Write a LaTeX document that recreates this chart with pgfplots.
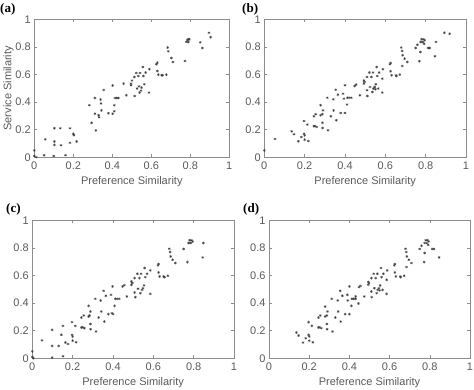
\documentclass[border=0pt]{standalone}
\usepackage{fontspec}
\setmainfont{Liberation Sans}
\newfontfamily\serifbold{Liberation Serif}
\usepackage{pgfplots}
\pgfplotsset{compat=1.18}
\definecolor{spine}{HTML}{8C8C8C}
\definecolor{lbl}{HTML}{5A5A5A}
\definecolor{mk}{HTML}{404040}
\pgfplotsset{
  panel/.style={
    scale only axis, height=138pt,
    xmin=0, xmax=1, ymin=0, ymax=1,
    xtick={0,0.2,0.4,0.6,0.8,1}, ytick={0,0.2,0.4,0.6,0.8,1},
    tick align=inside, major tick length=3pt,
    axis line style={spine, line width=0.6pt},
    tick style={spine, line width=0.5pt},
    /pgf/number format/assume math mode=true,
    tick label style={font=\fontsize{11}{13}\selectfont, text=lbl},
    label style={font=\fontsize{11}{13}\selectfont, text=lbl},
    xticklabel style={yshift=-1pt},
    xlabel={Preference Similarity},
    xlabel style={yshift=0pt},
    clip=false,
  },
  dots/.style={only marks, mark=asterisk, mark size=1.4pt, color=mk, line width=0.4pt},
}
\begin{document}
\begin{tikzpicture}[x=1pt,y=1pt]
\useasboundingbox (0,0) rectangle (474,389);
% (a)
\begin{axis}[panel, width=195pt, at={(34.3pt,231.7pt)}, anchor=origin, ylabel={Service Similarity}, ylabel style={yshift=-5pt}]
\addplot[dots] coordinates {
(0,0.05) (0,0.01) (0.01,0.0) (0.05,0.015) (0.056,0.13) (0.103,0.21) (0.133,0.21) (0.103,0.115)
(0.103,0.09) (0.137,0.087) (0.10,0.01) (0.16,0.015) (0.183,0.21) (0.183,0.105) (0.2,0.17) (0.203,0.16)
(0.217,0.115) (0.282,0.377) (0.294,0.25) (0.311,0.43) (0.311,0.316) (0.316,0.195) (0.33,0.305) (0.332,0.29)
(0.34,0.418) (0.342,0.39) (0.344,0.34) (0.356,0.488) (0.38,0.319) (0.402,0.52) (0.402,0.316) (0.41,0.333)
(0.41,0.377) (0.414,0.43) (0.422,0.43) (0.431,0.43) (0.458,0.534) (0.472,0.449) (0.496,0.534) (0.496,0.522)
(0.501,0.556) (0.513,0.582) (0.515,0.444) (0.523,0.611) (0.527,0.498) (0.533,0.589) (0.537,0.514) (0.54,0.469)
(0.542,0.611) (0.547,0.483) (0.55,0.505) (0.557,0.654) (0.559,0.589) (0.564,0.529) (0.571,0.614) (0.588,0.469)
(0.59,0.638) (0.626,0.674) (0.631,0.686) (0.631,0.626) (0.636,0.599) (0.653,0.594) (0.658,0.594) (0.677,0.599)
(0.684,0.795) (0.687,0.768) (0.703,0.72) (0.711,0.691) (0.773,0.698) (0.779,0.836) (0.785,0.85) (0.79,0.855)
(0.795,0.855) (0.79,0.836) (0.851,0.833) (0.862,0.792) (0.896,0.903) (0.904,0.87)
};
\end{axis}
% (b)
\begin{axis}[panel, width=201.7pt, at={(264.3pt,231.7pt)}, anchor=origin]
\addplot[dots] coordinates {
(0,0.05) (0.053,0.133) (0.136,0.188) (0.147,0.167) (0.169,0.116) (0.183,0.147) (0.197,0.171) (0.2,0.159)
(0.197,0.263) (0.2,0.128) (0.213,0.237) (0.218,0.118) (0.246,0.225) (0.251,0.227) (0.26,0.22) (0.246,0.297)
(0.255,0.312) (0.279,0.377) (0.279,0.304) (0.288,0.312) (0.291,0.34) (0.288,0.251) (0.289,0.213) (0.312,0.432)
(0.316,0.196) (0.33,0.297) (0.342,0.42) (0.344,0.34) (0.354,0.49) (0.357,0.268) (0.365,0.454) (0.379,0.321)
(0.39,0.461) (0.4,0.522) (0.4,0.321) (0.395,0.425) (0.41,0.382) (0.412,0.432) (0.421,0.432) (0.431,0.432)
(0.448,0.517) (0.455,0.527) (0.474,0.449) (0.494,0.556) (0.494,0.534) (0.497,0.546) (0.509,0.582) (0.509,0.486)
(0.511,0.444) (0.521,0.614) (0.524,0.51) (0.531,0.582) (0.539,0.614) (0.536,0.473) (0.541,0.498) (0.547,0.51)
(0.551,0.493) (0.553,0.529) (0.557,0.655) (0.56,0.589) (0.565,0.498) (0.569,0.614) (0.585,0.57) (0.585,0.469)
(0.588,0.638) (0.623,0.674) (0.626,0.684) (0.626,0.623) (0.631,0.594) (0.653,0.594) (0.655,0.589) (0.672,0.599)
(0.679,0.795) (0.683,0.771) (0.686,0.739) (0.684,0.662) (0.696,0.715) (0.709,0.691) (0.75,0.792) (0.759,0.816)
(0.769,0.696) (0.774,0.763) (0.775,0.836) (0.78,0.855) (0.785,0.836) (0.788,0.855) (0.792,0.823) (0.795,0.848)
(0.812,0.792) (0.82,0.792) (0.846,0.732) (0.851,0.836) (0.893,0.903) (0.919,0.896)
};
\end{axis}
% (c)
\begin{axis}[panel, width=201.7pt, at={(32.3pt,30.7pt)}, anchor=origin]
\addplot[dots] coordinates {
(0,0.05) (0,0.01) (0.005,0.0) (0.048,0.13) (0.098,0.206) (0.098,0.09) (0.131,0.09) (0.098,0.005)
(0.152,0.235) (0.144,0.17) (0.152,0.015) (0.164,0.114) (0.177,0.104) (0.197,0.17) (0.2,0.158) (0.197,0.262)
(0.2,0.128) (0.213,0.235) (0.217,0.116) (0.243,0.223) (0.25,0.225) (0.258,0.218) (0.243,0.295) (0.255,0.31)
(0.279,0.38) (0.279,0.303) (0.284,0.31) (0.288,0.339) (0.288,0.249) (0.289,0.211) (0.312,0.431) (0.316,0.194)
(0.329,0.295) (0.339,0.419) (0.342,0.339) (0.354,0.489) (0.357,0.266) (0.365,0.453) (0.377,0.32) (0.39,0.46)
(0.398,0.521) (0.4,0.32) (0.395,0.327) (0.408,0.38) (0.412,0.431) (0.421,0.431) (0.431,0.431) (0.448,0.521)
(0.456,0.53) (0.469,0.448) (0.491,0.557) (0.491,0.533) (0.496,0.545) (0.507,0.581) (0.507,0.477) (0.511,0.443)
(0.521,0.613) (0.524,0.504) (0.531,0.581) (0.539,0.613) (0.536,0.472) (0.544,0.496) (0.549,0.508) (0.554,0.528)
(0.557,0.654) (0.56,0.588) (0.569,0.613) (0.585,0.637) (0.585,0.467) (0.623,0.673) (0.626,0.683) (0.626,0.622)
(0.631,0.593) (0.651,0.593) (0.656,0.588) (0.672,0.598) (0.679,0.794) (0.683,0.77) (0.686,0.738) (0.696,0.714)
(0.709,0.69) (0.75,0.792) (0.769,0.697) (0.775,0.835) (0.78,0.855) (0.785,0.835) (0.788,0.855) (0.795,0.847)
(0.848,0.835) (0.845,0.731)
};
\end{axis}
% (d)
\begin{axis}[panel, width=201pt, at={(269pt,30.7pt)}, anchor=origin]
\addplot[dots] coordinates {
(0.136,0.187) (0.147,0.165) (0.169,0.114) (0.183,0.145) (0.197,0.17) (0.2,0.158) (0.197,0.262) (0.2,0.128)
(0.213,0.235) (0.218,0.116) (0.246,0.223) (0.251,0.225) (0.26,0.218) (0.246,0.295) (0.255,0.31) (0.279,0.375)
(0.279,0.303) (0.288,0.31) (0.291,0.339) (0.288,0.249) (0.289,0.211) (0.312,0.431) (0.316,0.194) (0.33,0.295)
(0.342,0.419) (0.344,0.339) (0.354,0.489) (0.357,0.266) (0.365,0.453) (0.379,0.32) (0.39,0.46) (0.4,0.521)
(0.4,0.32) (0.392,0.419) (0.41,0.38) (0.412,0.431) (0.421,0.431) (0.431,0.448) (0.431,0.431) (0.448,0.516)
(0.455,0.525) (0.474,0.448) (0.445,0.397) (0.494,0.554) (0.494,0.533) (0.497,0.545) (0.509,0.581) (0.509,0.484)
(0.511,0.443) (0.521,0.613) (0.524,0.508) (0.531,0.581) (0.539,0.613) (0.536,0.472) (0.541,0.496) (0.547,0.508)
(0.551,0.492) (0.553,0.528) (0.557,0.654) (0.56,0.588) (0.565,0.496) (0.569,0.613) (0.585,0.569) (0.585,0.467)
(0.588,0.637) (0.623,0.673) (0.626,0.683) (0.626,0.622) (0.631,0.593) (0.653,0.593) (0.655,0.588) (0.672,0.598)
(0.679,0.794) (0.683,0.77) (0.686,0.738) (0.684,0.661) (0.696,0.714) (0.709,0.69) (0.75,0.792) (0.759,0.816)
(0.772,0.697) (0.774,0.763) (0.775,0.835) (0.78,0.855) (0.785,0.835) (0.788,0.855) (0.792,0.823) (0.795,0.847)
(0.812,0.792) (0.82,0.792) (0.846,0.731)
};
\end{axis}
\node[anchor=west, inner sep=0pt, font=\serifbold\bfseries\fontsize{13}{15}\selectfont] at (0,380) {(a)};
\node[anchor=west, inner sep=0pt, font=\serifbold\bfseries\fontsize{13}{15}\selectfont] at (242,380) {(b)};
\node[anchor=west, inner sep=0pt, font=\serifbold\bfseries\fontsize{13}{15}\selectfont] at (6,179.5) {(c)};
\node[anchor=west, inner sep=0pt, font=\serifbold\bfseries\fontsize{13}{15}\selectfont] at (243,179.5) {(d)};
\end{tikzpicture}
\end{document}
